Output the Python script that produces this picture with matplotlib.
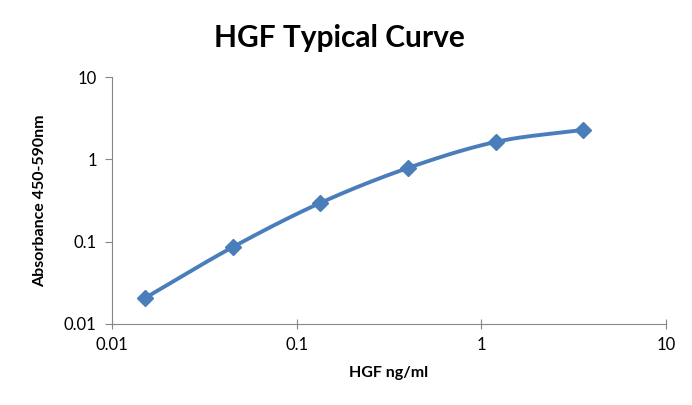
import numpy as np
import matplotlib
matplotlib.use('Agg')
import matplotlib.pyplot as plt
from matplotlib.ticker import FixedLocator, FuncFormatter, NullLocator

plt.rcParams['font.family'] = ['Lato', 'DejaVu Sans']

# data
conc = [0.0151, 0.0452, 0.134, 0.401, 1.20, 3.55]
absorb = [0.0207, 0.0862, 0.295, 0.786, 1.63, 2.28]
ticks = [0.01, 0.1, 1, 10]


def smooth(x, y, n=30):
    # Catmull-Rom through the points in log space (like Excel smoothed line)
    lx, ly = np.log10(x), np.log10(y)
    px = np.concatenate([[2 * lx[0] - lx[1]], lx, [2 * lx[-1] - lx[-2]]])
    py = np.concatenate([[2 * ly[0] - ly[1]], ly, [2 * ly[-1] - ly[-2]]])
    xs, ys = [], []
    t = np.linspace(0, 1, n)
    for i in range(1, len(px) - 2):
        for p, out in ((px, xs), (py, ys)):
            p0, p1, p2, p3 = p[i - 1], p[i], p[i + 1], p[i + 2]
            out.extend(0.5 * (2 * p1 + (-p0 + p2) * t
                              + (2 * p0 - 5 * p1 + 4 * p2 - p3) * t ** 2
                              + (-p0 + 3 * p1 - 3 * p2 + p3) * t ** 3))
    return 10 ** np.array(xs), 10 ** np.array(ys)


fig = plt.figure(figsize=(6.92, 4.05), dpi=100)
ax = fig.add_axes([112 / 692, 81 / 405, 554 / 692, 247 / 405])

sx, sy = smooth(conc, absorb)
ax.plot(sx, sy, color='#4A7EBB', lw=2.8, solid_capstyle='round')
ax.plot(conc, absorb, linestyle='none', marker='D', ms=8, color='#4A7EBB')

ax.set_xscale('log')
ax.set_yscale('log')
ax.set_xlim(0.01, 10)
ax.set_ylim(0.01, 10)
fmt = FuncFormatter(lambda v, p: '{:g}'.format(v))
for axis in (ax.xaxis, ax.yaxis):
    axis.set_major_locator(FixedLocator(ticks))
    axis.set_minor_locator(NullLocator())
    axis.set_major_formatter(fmt)

for s in ('top', 'right'):
    ax.spines[s].set_visible(False)
for s in ('left', 'bottom'):
    ax.spines[s].set_color('#868686')
ax.tick_params(axis='x', direction='inout', length=7, color='#868686', labelsize=12, pad=6)
ax.tick_params(axis='y', direction='out', length=5, color='#868686', labelsize=12, pad=6)

ax.set_xlabel('HGF ng/ml', fontsize=11.5, fontweight='bold', labelpad=9)
ax.set_ylabel('Absorbance 450-590nm', fontsize=11.5, fontweight='bold', labelpad=12)
fig.text(0.49, 0.905, 'HGF Typical Curve', fontsize=21.5, fontweight='bold', ha='center', va='center')

fig.savefig('out.png', dpi=100)
